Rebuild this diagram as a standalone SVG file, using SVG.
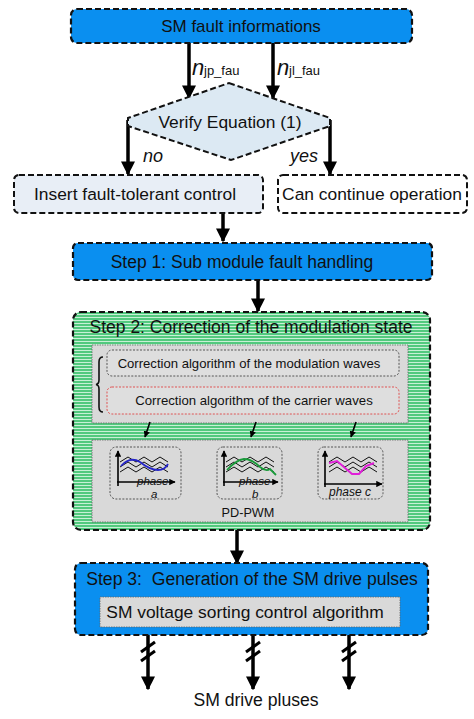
<svg xmlns="http://www.w3.org/2000/svg" width="474" height="719" viewBox="0 0 474 719">
<defs>
<style>
.t{font-family:"Liberation Sans",Arial,sans-serif;fill:#111}
.blue{fill:#0a8ff0;stroke:#111;stroke-width:2.2;stroke-dasharray:6 3}
.lb{fill:#e8eef6;stroke:#111;stroke-width:2;stroke-dasharray:6 3}
.ar{stroke:#000;stroke-width:3.5;fill:none}
.sar{stroke:#000;stroke-width:1.6;fill:none}
.mini{fill:none;stroke:#333;stroke-width:0.8;stroke-dasharray:2 1.5}
.zz{fill:none;stroke:#111;stroke-width:1}
</style>
<marker id="ah" viewBox="0 0 10 10" refX="9" refY="5" markerWidth="4" markerHeight="4" orient="auto" markerUnits="strokeWidth"><path d="M0,0 L10,5 L0,10 Z" fill="#000"/></marker>
<marker id="ahs" viewBox="0 0 10 10" refX="9" refY="5" markerWidth="4" markerHeight="4" orient="auto" markerUnits="strokeWidth"><path d="M0,0 L10,5 L0,10 Z" fill="#000"/></marker>
<pattern id="hatch" width="4" height="3" patternUnits="userSpaceOnUse"><rect width="4" height="3" fill="#52c97e"/><rect y="2" width="4" height="1" fill="#c8f0d6"/></pattern>
</defs>
<rect width="474" height="719" fill="#fff"/>

<g id="connectors">
<line class="ar" x1="189" y1="43" x2="189" y2="98" marker-end="url(#ah)"/>
<line class="ar" x1="273" y1="43" x2="273" y2="98" marker-end="url(#ah)"/>
<text class="t" x="192" y="75" font-size="22" font-style="italic">n</text>
<text class="t" x="204" y="75" font-size="13">jp_fau</text>
<text class="t" x="277" y="75" font-size="22" font-style="italic">n</text>
<text class="t" x="289" y="75" font-size="13">jl_fau</text>
<line class="ar" x1="128" y1="120" x2="128" y2="174" marker-end="url(#ah)"/>
<line class="ar" x1="330" y1="120" x2="330" y2="174" marker-end="url(#ah)"/>
<text class="t" x="143" y="162" font-size="18" font-style="italic">no</text>
<text class="t" x="290" y="162" font-size="18" font-style="italic">yes</text>
<line class="ar" x1="223" y1="213" x2="223" y2="241" marker-end="url(#ah)"/>
<line class="ar" x1="258" y1="280" x2="258" y2="311" marker-end="url(#ah)"/>
<line class="ar" x1="237" y1="530" x2="237" y2="563" marker-end="url(#ah)"/>
<line class="ar" x1="148" y1="627" x2="148" y2="689" marker-end="url(#ah)"/>
<line class="ar" x1="253" y1="627" x2="253" y2="689" marker-end="url(#ah)"/>
<line class="ar" x1="349" y1="627" x2="349" y2="689" marker-end="url(#ah)"/>
<g stroke="#000" stroke-width="3">
<line x1="141" y1="652" x2="155" y2="642"/><line x1="141" y1="661" x2="155" y2="651"/>
<line x1="246" y1="652" x2="260" y2="642"/><line x1="246" y1="661" x2="260" y2="651"/>
<line x1="342" y1="652" x2="356" y2="642"/><line x1="342" y1="661" x2="356" y2="651"/>
</g>
</g>

<g id="sm-fault">
<rect class="blue" x="71" y="9" width="341" height="34" rx="6"/>
<text class="t" x="241" y="32" font-size="17" text-anchor="middle">SM fault informations</text>
</g>

<g id="verify">
<polygon points="229,83 330,118 330,126 231,160 128,126 128,118" fill="#dce9f3" stroke="#111" stroke-width="2" stroke-dasharray="6 3"/>
<text class="t" x="230" y="128" font-size="17.4" text-anchor="middle">Verify Equation (1)</text>
</g>

<g id="insert">
<rect class="lb" x="14" y="175" width="249" height="38" rx="5"/>
<text class="t" x="135" y="200" font-size="17.4" text-anchor="middle">Insert fault-tolerant control</text>
</g>

<g id="continue">
<rect class="lb" x="278" y="175" width="189" height="38" rx="5" style="fill:#fff"/>
<text class="t" x="372" y="200" font-size="17.4" text-anchor="middle">Can continue operation</text>
</g>

<g id="step1">
<rect class="blue" x="73" y="243" width="359" height="37" rx="5"/>
<text class="t" x="242" y="268" font-size="17.5" text-anchor="middle">Step 1: Sub module fault handling</text>
</g>

<g id="step2">
<rect x="73" y="312" width="357" height="218" rx="8" fill="url(#hatch)" stroke="#111" stroke-width="2.2" stroke-dasharray="6 3"/>
<text class="t" x="251" y="333" font-size="17.5" text-anchor="middle">Step 2: Correction of the modulation state</text>
<rect x="92" y="345" width="316" height="78" fill="#d9d9d9" stroke="#666" stroke-width="0.8" stroke-dasharray="1.5 1"/>
<path d="M103,357 Q99,357 99,362 L99,380 Q99,384 96,384.5 Q99,385 99,389 L99,407 Q99,412 103,412" fill="none" stroke="#111" stroke-width="1.6"/>
<rect x="107" y="350" width="292" height="26" rx="5" fill="#dedede" stroke="#333" stroke-width="0.8" stroke-dasharray="2 1.5"/>
<text class="t" x="249" y="368" font-size="13.1" text-anchor="middle">Correction algorithm of the modulation waves</text>
<rect x="107" y="387" width="292" height="27" rx="5" fill="#dedede" stroke="#e03030" stroke-width="0.8" stroke-dasharray="2 1.5"/>
<text class="t" x="254" y="405" font-size="13.2" text-anchor="middle">Correction algorithm of the carrier waves</text>
<line class="sar" x1="150" y1="422" x2="145" y2="437" marker-end="url(#ahs)"/>
<line class="sar" x1="256" y1="422" x2="251" y2="437" marker-end="url(#ahs)"/>
<line class="sar" x1="356" y1="422" x2="351" y2="437" marker-end="url(#ahs)"/>
<rect x="92" y="440" width="316" height="82" fill="#d9d9d9" stroke="#666" stroke-width="0.8" stroke-dasharray="1.5 1"/>
<text class="t" x="248" y="517" font-size="12.7" text-anchor="middle">PD-PWM</text>
</g>

<g id="phase-a">
<rect class="mini" x="110" y="447" width="71" height="52" rx="6"/>
<line class="sar" x1="118" y1="486" x2="118" y2="451" marker-end="url(#ahs)"/>
<line class="sar" x1="117" y1="482" x2="175" y2="482" marker-end="url(#ahs)"/>
<polyline class="zz" points="120,462 128,457 136,462 144,457 152,462 160,457 168,462"/>
<polyline class="zz" points="120,467 128,462 136,467 144,462 152,467 160,462 168,467"/>
<polyline class="zz" points="120,472 128,467 136,472 144,467 152,472 160,467 168,472"/>
<path d="M121,466 Q130,456 140,462 Q150,470 158,470 Q165,470 168,464" fill="none" stroke="#2525c8" stroke-width="1.8"/>
<text class="t" x="137" y="485" font-size="11.5" font-style="italic">phase</text>
<text class="t" x="151" y="498" font-size="11.5" font-style="italic">a</text>
</g>

<g id="phase-b">
<rect class="mini" x="217" y="447" width="65" height="52" rx="6"/>
<line class="sar" x1="224" y1="486" x2="224" y2="451" marker-end="url(#ahs)"/>
<line class="sar" x1="223" y1="482" x2="278" y2="482" marker-end="url(#ahs)"/>
<polyline class="zz" points="226,462 234,457 242,462 250,457 258,462 266,457 274,462"/>
<polyline class="zz" points="226,467 234,462 242,467 250,462 258,467 266,462 274,467"/>
<polyline class="zz" points="226,472 234,467 242,472 250,467 258,472 266,467 274,472"/>
<path d="M227,470 Q236,460 244,459 Q252,459 260,467 Q266,472 270,469 L276,475" fill="none" stroke="#1a9a3a" stroke-width="1.8"/>
<text class="t" x="239" y="485" font-size="11.5" font-style="italic">phase</text>
<text class="t" x="252" y="498" font-size="11.5" font-style="italic">b</text>
</g>

<g id="phase-c">
<rect class="mini" x="318" y="447" width="65" height="52" rx="6"/>
<line class="sar" x1="325" y1="487" x2="325" y2="451" marker-end="url(#ahs)"/>
<line class="sar" x1="324" y1="484" x2="382" y2="484" marker-end="url(#ahs)"/>
<polyline class="zz" points="329,462 337,457 345,462 353,457 361,462 369,457 377,462"/>
<polyline class="zz" points="329,467 337,462 345,467 353,462 361,467 369,462 377,467"/>
<polyline class="zz" points="329,472 337,467 345,472 353,467 361,472 369,467 377,472"/>
<polyline points="329,463 337,461 352,474 359,474 366,466 374,463" fill="none" stroke="#e020d8" stroke-width="2"/>
<text class="t" x="329" y="496" font-size="12" font-style="italic">phase c</text>
</g>

<g id="step3">
<rect class="blue" x="75" y="563" width="353" height="72" rx="6"/>
<text class="t" x="252" y="585" font-size="17.6" text-anchor="middle" xml:space="preserve">Step 3:  Generation of the SM drive pulses</text>
<rect x="100" y="597" width="300" height="30" fill="#d9d9d9" stroke="#666" stroke-width="0.8" stroke-dasharray="1.5 1"/>
<text class="t" x="245" y="618" font-size="17.4" text-anchor="middle">SM voltage sorting control algorithm</text>
</g>

<g id="drive">
<text class="t" x="256" y="706" font-size="17.6" text-anchor="middle">SM drive pluses</text>
</g>
</svg>
